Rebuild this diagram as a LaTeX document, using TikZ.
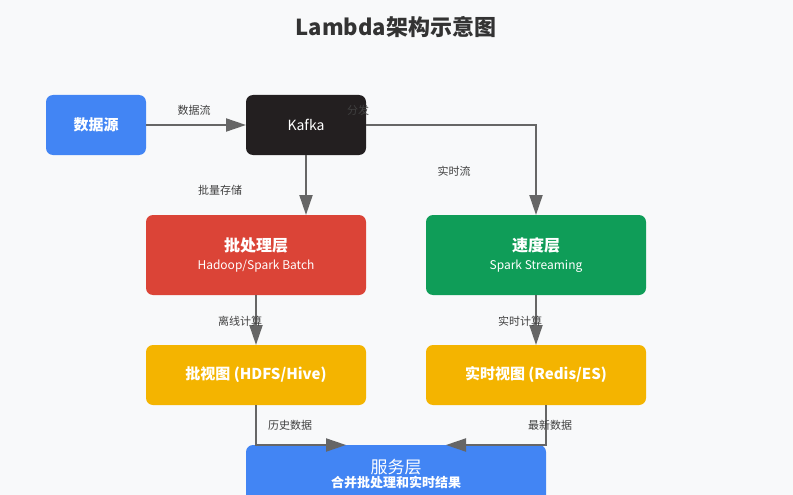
\documentclass[tikz,border=0pt]{standalone}
\usepackage{fontspec}
\setmainfont{Noto Sans CJK SC}
\usetikzlibrary{arrows.meta}
\definecolor{bg}{HTML}{F8F9FA}
\definecolor{cblue}{HTML}{4285F4}
\definecolor{cdark}{HTML}{231F20}
\definecolor{cred}{HTML}{DB4437}
\definecolor{cgreen}{HTML}{0F9D58}
\definecolor{cyel}{HTML}{F4B400}
\definecolor{carr}{HTML}{666666}
\begin{document}
\begin{tikzpicture}[x=1pt,y=-1pt,
 box/.style={rounded corners=7pt,text=white,align=center,inner sep=0pt},
 arr/.style={draw=carr,line width=2pt,-{Triangle[length=20pt,width=13pt]}},
 lab/.style={font=\fontsize{11}{13}\selectfont,text=black!75},
 big/.style={font=\fontsize{15}{18}\selectfont\bfseries},
 sub/.style={font=\fontsize{12}{14}\selectfont}]
\useasboundingbox[fill=bg] (0,0) rectangle (793,495);
\clip (0,0) rectangle (793,495);
\node[font=\fontsize{22}{26}\selectfont\bfseries,text=black!80] (title) at (396,27) {Lambda架构示意图};
\fill[cblue,rounded corners=7pt] (46,95) rectangle (146,155);
\node[box,big] (src) at (96,125) {数据源};
\coordinate (srcE) at (146,125);
\fill[cdark,rounded corners=7pt] (246,95) rectangle (366,155);
\node[box,font=\fontsize{14}{16}\selectfont] (kafka) at (306,125) {Kafka};
\coordinate (kW) at (246,125);\coordinate (kS) at (306,155);\coordinate (kE) at (366,125);
\fill[cred,rounded corners=7pt] (146,215) rectangle (366,295);
\node[box] (batch) at (256,255) {{\fontsize{16}{20}\selectfont\bfseries 批处理层}\\[6pt]{\fontsize{12}{14}\selectfont Hadoop/Spark Batch}};
\fill[cgreen,rounded corners=7pt] (426,215) rectangle (646,295);
\node[box] (speed) at (536,255) {{\fontsize{16}{20}\selectfont\bfseries 速度层}\\[6pt]{\fontsize{12}{14}\selectfont Spark Streaming}};
\fill[cyel,rounded corners=7pt] (146,345) rectangle (366,405);
\node[box,big] (bview) at (256,375) {批视图 (HDFS/Hive)};
\fill[cyel,rounded corners=7pt] (426,345) rectangle (646,405);
\node[box,big] (rview) at (536,375) {实时视图 (Redis/ES)};
\fill[cblue,rounded corners=7pt] (246,445) rectangle (546,520);
\node[box] (serve) at (396,474) {{\fontsize{17}{20}\selectfont 服务层}\\[0pt]{\fontsize{13}{15}\selectfont\bfseries 合并批处理和实时结果}};
\coordinate (bT) at (306,215);\coordinate (sT) at (536,215);
\coordinate (bB) at (256,295);\coordinate (bvT) at (256,345);
\coordinate (sB) at (536,295);\coordinate (rvT) at (536,345);
\coordinate (bvB) at (256,405);\coordinate (rvB) at (546,405);
\coordinate (svL) at (346,445);\coordinate (svR) at (446,445);
\draw[arr] (srcE) -- (kW);
\draw[arr] (kS) -- (bT);
\draw[arr] (kE) -| (sT);
\draw[arr] (bB) -- (bvT);
\draw[arr] (sB) -- (rvT);
\draw[arr] (bvB) |- (svL);
\draw[arr] (rvB) |- (svR);
\node[lab] (l1) at (194,110) {数据流};
\node[lab] (l2) at (358,110) {分发};
\node[lab] (l3) at (454,171) {实时流};
\node[lab] (l4) at (220,190) {批量存储};
\node[lab] (l5) at (240,321) {离线计算};
\node[lab] (l6) at (520,321) {实时计算};
\node[lab] (l7) at (290,425) {历史数据};
\node[lab] (l8) at (550,425) {最新数据};
\end{tikzpicture}
\end{document}
